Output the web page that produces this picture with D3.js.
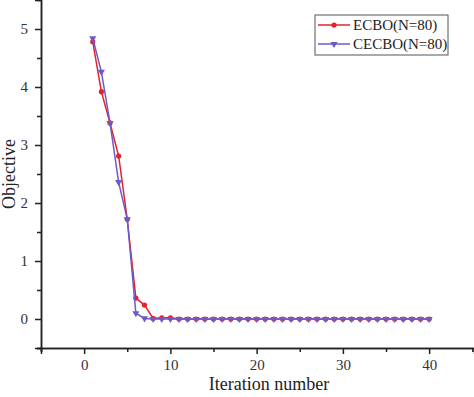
<!DOCTYPE html>
<html>
<head>
<meta charset="utf-8">
<script src="https://cdn.jsdelivr.net/npm/d3@7.9.0/dist/d3.min.js"></script>
<style>
  body { margin: 0; background: #fff; }
  svg { display: block; font-family: "Liberation Serif", "Times New Roman", serif; }
</style>
</head>
<body>
<svg width="474" height="397"></svg>
<script>
// data
const iterations = d3.range(1, 41);
const ecbo = [4.78, 3.92, 3.38, 2.81, 1.72, 0.36, 0.24, 0.01, 0.02, 0.02,
  0, 0, 0, 0, 0, 0, 0, 0, 0, 0, 0, 0, 0, 0, 0, 0, 0, 0, 0, 0,
  0, 0, 0, 0, 0, 0, 0, 0, 0, 0];
const cecbo = [4.84, 4.26, 3.38, 2.36, 1.72, 0.1, 0.01, 0, 0, 0,
  0, 0, 0, 0, 0, 0, 0, 0, 0, 0, 0, 0, 0, 0, 0, 0, 0, 0, 0, 0,
  0, 0, 0, 0, 0, 0, 0, 0, 0, 0];
const seriesNames = ['ECBO(N=80)', 'CECBO(N=80)'];
const seriesColors = ['#e8202a', '#6a5bc8'];
const xTicks = [0, 10, 20, 30, 40];
const yTicks = [0, 1, 2, 3, 4, 5];

const svg = d3.select('svg');
const x = d3.scaleLinear().domain([-5, 45.2]).range([41, 474]);
const y = d3.scaleLinear().domain([-0.5, 5.5]).range([348, 0]);

// axes
svg.append('g').attr('transform', 'translate(0,348)')
  .call(d3.axisBottom(x).tickValues(xTicks).tickSize(6).tickPadding(5).tickFormat(d3.format('d')));
svg.append('g').attr('transform', 'translate(0,348)')
  .call(d3.axisBottom(x).tickValues([-5, 5, 15, 25, 35, 45]).tickSize(4).tickFormat(''));
svg.append('g').attr('transform', 'translate(41,0)')
  .call(d3.axisLeft(y).tickValues(yTicks).tickSize(6).tickPadding(7).tickFormat(d3.format('d')));
svg.append('g').attr('transform', 'translate(41,0)')
  .call(d3.axisLeft(y).tickValues([-0.5, 0.5, 1.5, 2.5, 3.5, 4.5]).tickSize(4).tickFormat(''));

svg.selectAll('.domain').attr('stroke', '#222').attr('stroke-width', 1.5);
svg.selectAll('.tick line').attr('stroke', '#222').attr('stroke-width', 1.5);
svg.selectAll('.tick text').attr('font-size', 15).attr('fill', '#333')
  .attr('font-family', '"Liberation Serif", serif');

svg.append('text').attr('x', 269).attr('y', 390).attr('text-anchor', 'middle')
  .attr('font-size', 18).attr('fill', '#222').text('Iteration number');
svg.append('text').attr('transform', 'translate(15,174) rotate(-90)')
  .attr('text-anchor', 'middle').attr('font-size', 18).attr('fill', '#222').text('Objective');

// lines
const line = d3.line().x((d, i) => x(iterations[i])).y(d => y(d));
const tri = d3.symbol().type(d3.symbolTriangle).size(22);

[ecbo, cecbo].forEach((vals, s) => {
  svg.append('path').datum(vals).attr('d', line)
    .attr('fill', 'none').attr('stroke', seriesColors[s]).attr('stroke-width', 1.5);
  const g = svg.append('g');
  if (s === 0) {
    g.selectAll('circle').data(vals).join('circle')
      .attr('cx', (d, i) => x(iterations[i])).attr('cy', d => y(d))
      .attr('r', 2.6).attr('fill', seriesColors[s]);
  } else {
    g.selectAll('path').data(vals).join('path')
      .attr('d', tri)
      .attr('transform', (d, i) => `translate(${x(iterations[i])},${y(d)}) rotate(180)`)
      .attr('fill', seriesColors[s]);
  }
});

// legend
const lg = svg.append('g');
lg.append('rect').attr('x', 315).attr('y', 15).attr('width', 133).attr('height', 40)
  .attr('fill', '#fff').attr('stroke', '#555').attr('stroke-width', 1);
seriesNames.forEach((name, i) => {
  const ly = 25 + i * 19;
  lg.append('line').attr('x1', 318).attr('x2', 350).attr('y1', ly).attr('y2', ly)
    .attr('stroke', seriesColors[i]).attr('stroke-width', 1.5);
  if (i === 0) {
    lg.append('circle').attr('cx', 334).attr('cy', ly).attr('r', 2.6).attr('fill', seriesColors[i]);
  } else {
    lg.append('path').attr('d', tri).attr('transform', `translate(334,${ly}) rotate(180)`)
      .attr('fill', seriesColors[i]);
  }
  lg.append('text').attr('x', 353).attr('y', ly + 5).attr('font-size', 15)
    .attr('fill', '#222').text(name);
});
</script>
</body>
</html>
